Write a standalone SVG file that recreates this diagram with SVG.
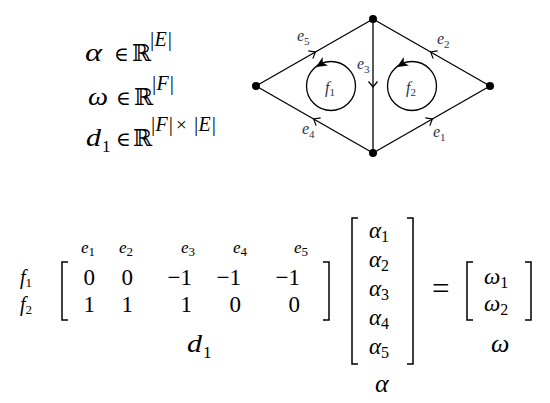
<svg xmlns="http://www.w3.org/2000/svg" width="550" height="403" viewBox="0 0 550 403">
<style>
.m{font-family:"Liberation Serif","DejaVu Serif",serif;fill:#000}
.i{font-style:italic}
.big{font-size:26px}
.num{font-size:23px}
.hd{font-size:17px}
.sup{font-size:20px;font-style:italic}
.rel{font-family:"DejaVu Serif",serif;font-size:20px}
.lbl{font-family:"Liberation Serif","DejaVu Serif",serif;font-style:italic;font-size:16px;fill:#2b3450}
.bb{font-family:"DejaVu Serif",serif;font-size:23px}
.edge{fill:none;stroke:#000;stroke-width:1.3}
.br{fill:none;stroke:#000;stroke-width:1.5}
</style>
<defs>
<marker id="chev" markerUnits="userSpaceOnUse" markerWidth="12" markerHeight="12" viewBox="-6 -6 12 12" refX="0" refY="0" orient="auto">
<path d="M-4.5,-4.5 L1,0 L-4.5,4.5" fill="none" stroke="#000" stroke-width="1.2"/>
</marker>
<path id="ah" d="M0,0 L-11,-5 L-8,0 L-11,5 Z" fill="#000"/>
</defs>

<g id="formulas" class="m">
<text class="big i" x="85" y="61" textLength="17" lengthAdjust="spacingAndGlyphs">α</text>
<text class="rel" x="114" y="61">∈</text>
<text class="bb" x="132" y="61">ℝ</text>
<text class="sup" x="149" y="46">|E|</text>

<text class="big i" x="88" y="105" textLength="20" lengthAdjust="spacingAndGlyphs">ω</text>
<text class="rel" x="116" y="105">∈</text>
<text class="bb" x="134" y="105">ℝ</text>
<text class="sup" x="151" y="90">|F|</text>

<text class="big i" x="86" y="146" textLength="15" lengthAdjust="spacingAndGlyphs">d</text>
<text class="m" font-size="17" x="102" y="152">1</text>
<text class="rel" x="116" y="146">∈</text>
<text class="bb" x="133" y="146">ℝ</text>
<text class="sup" x="150" y="131">|F|</text>
<text class="m" font-size="19" x="176" y="131">×</text>
<text class="sup" x="193" y="131">|E|</text>
</g>

<g id="connectors">
<path class="edge" d="M256,86 L314.5,52.5 L373,19" marker-mid="url(#chev)"/>
<path class="edge" d="M373,153 L314.5,119.5 L256,86" marker-mid="url(#chev)"/>
<path class="edge" d="M373,19 L373,86 L373,153" stroke-width="2" marker-mid="url(#chev)"/>
<path class="edge" d="M490,86 L431.5,52.5 L373,19" marker-mid="url(#chev)"/>
<path class="edge" d="M373,153 L431.5,119.5 L490,86" marker-mid="url(#chev)"/>
</g>

<g id="v-left"><circle cx="256" cy="86" r="4"/></g>
<g id="v-top"><circle cx="373" cy="19" r="4"/></g>
<g id="v-right"><circle cx="490" cy="86" r="4"/></g>
<g id="v-bottom"><circle cx="373" cy="153" r="4"/></g>

<g id="face-f1">
<circle class="edge" cx="331" cy="86" r="24.5"/>
<use href="#ah" transform="translate(316,67) rotate(148)"/>
<text class="lbl" font-size="18" x="325" y="93">f<tspan font-size="11" font-style="normal" dy="3">1</tspan></text>
</g>
<g id="face-f2">
<circle class="edge" cx="412" cy="86" r="24.5"/>
<use href="#ah" transform="translate(397,67) rotate(148)"/>
<text class="lbl" font-size="18" x="406" y="93">f<tspan font-size="11" font-style="normal" dy="3">2</tspan></text>
</g>

<g id="edge-labels">
<text class="lbl" x="297" y="41">e<tspan font-size="11" font-style="normal" dy="4">5</tspan></text>
<text class="lbl" x="357" y="69">e<tspan font-size="11" font-style="normal" dy="4">3</tspan></text>
<text class="lbl" x="437" y="44">e<tspan font-size="11" font-style="normal" dy="4">2</tspan></text>
<text class="lbl" x="302" y="134">e<tspan font-size="11" font-style="normal" dy="4">4</tspan></text>
<text class="lbl" x="433" y="137">e<tspan font-size="11" font-style="normal" dy="4">1</tspan></text>
</g>

<g id="matrix-d1" class="m">
<g class="hd i">
<text x="81" y="253">e<tspan font-size="13" font-style="normal" dy="3">1</tspan></text>
<text x="119" y="253">e<tspan font-size="13" font-style="normal" dy="3">2</tspan></text>
<text x="181" y="253">e<tspan font-size="13" font-style="normal" dy="3">3</tspan></text>
<text x="233" y="253">e<tspan font-size="13" font-style="normal" dy="3">4</tspan></text>
<text x="294" y="253">e<tspan font-size="13" font-style="normal" dy="3">5</tspan></text>
<text x="20" y="284" font-size="20">f<tspan font-size="13" font-style="normal" dy="3">1</tspan></text>
<text x="20" y="311" font-size="20">f<tspan font-size="13" font-style="normal" dy="3">2</tspan></text>
</g>
<path class="br" d="M68,262 H62 V320 H68 M323,262 H329 V320 H323"/>
<g class="num" text-anchor="end">
<text x="95" y="285">0</text><text x="133" y="285">0</text><text x="192" y="285">−1</text><text x="241" y="285">−1</text><text x="300" y="285">−1</text>
<text x="95" y="312">1</text><text x="133" y="312">1</text><text x="192" y="312">1</text><text x="241" y="312">0</text><text x="300" y="312">0</text>
</g>
<text class="big i" x="187" y="352" textLength="15" lengthAdjust="spacingAndGlyphs">d</text>
<text class="m" font-size="17" x="203" y="358">1</text>
</g>

<g id="vector-alpha" class="m">
<path class="br" d="M358,218 H352 V364 H358 M407,218 H413 V364 H407"/>
<g class="num i">
<text x="369" y="238">α<tspan font-size="16" font-style="normal" dy="4">1</tspan></text>
<text x="369" y="267">α<tspan font-size="16" font-style="normal" dy="4">2</tspan></text>
<text x="369" y="296">α<tspan font-size="16" font-style="normal" dy="4">3</tspan></text>
<text x="369" y="325">α<tspan font-size="16" font-style="normal" dy="4">4</tspan></text>
<text x="369" y="354">α<tspan font-size="16" font-style="normal" dy="4">5</tspan></text>
</g>
<text class="big i" x="375" y="392">α</text>
</g>

<g id="equals" class="m"><text x="432" y="299" font-size="31">=</text></g>

<g id="vector-omega" class="m">
<path class="br" d="M473,262 H467 V320 H473 M525,262 H531 V320 H525"/>
<g class="num i">
<text x="484" y="284">ω<tspan font-size="16" font-style="normal" dy="4">1</tspan></text>
<text x="484" y="311">ω<tspan font-size="16" font-style="normal" dy="4">2</tspan></text>
</g>
<text class="big i" x="491" y="352">ω</text>
</g>
</svg>
